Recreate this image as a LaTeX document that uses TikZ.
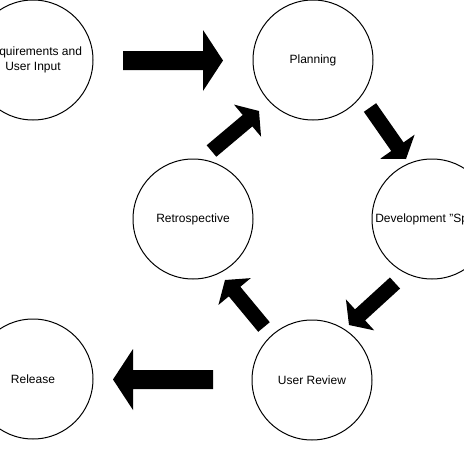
\documentclass[tikz,border=0pt]{standalone}
\usepackage{fontspec}
\setmainfont{Liberation Sans}
\usetikzlibrary{calc}
\tikzset{
  stage/.style={circle, draw=black, line width=1pt, minimum size=120pt, inner sep=0pt, font=\fontsize{12pt}{15pt}\selectfont, align=center, text=black},
}
% #1 tail, #2 tip, #3 half shaft width, #4 half head width, #5 head length
\newcommand\blkarrow[5]{%
  \fill[black] ($(#1)!#3!90:(#2)$)
    -- ($(#2)!#5!(#1)!#3!-90:(#1)$)
    -- ($(#2)!#5!(#1)!#4!-90:(#1)$)
    -- (#2)
    -- ($(#2)!#5!(#1)!#4!90:(#1)$)
    -- ($(#2)!#5!(#1)!#3!90:(#1)$)
    -- ($(#1)!#3!-90:(#2)$) -- cycle;}
\begin{document}
\begin{tikzpicture}[x=1pt,y=-1pt]
\useasboundingbox (0,0) rectangle (464,464);
\clip (0,0) rectangle (464,464);
\fill[white] (0,0) rectangle (464,464);
\node[stage] (req) at (33,60) {Requirements and\\User Input};
\node[stage] (plan) at (313,60) {Planning};
\node[stage] (retro) at (193,219) {Retrospective};
\node[stage] (dev) at (432,219) {Development "Sprint"};
\node[stage] (rev) at (312,380) {User Review};
\node[stage] (rel) at (33,379) {Release};
% arrow end points
\coordinate (a1t) at (123,60.5);  \coordinate (a1h) at (223,60.5);
\coordinate (a2t) at (370,107.5); \coordinate (a2h) at (406,159);
\coordinate (a3t) at (395,283);   \coordinate (a3h) at (349,325);
\coordinate (a4t) at (264,327);   \coordinate (a4h) at (225,280);
\coordinate (a5t) at (211.5,151); \coordinate (a5h) at (259,111);
\coordinate (a6t) at (213,379.5); \coordinate (a6h) at (113,379.5);
\blkarrow{a1t}{a1h}{9.5pt}{30.5pt}{20pt}
\blkarrow{a2t}{a2h}{7.5pt}{21pt}{15pt}
\blkarrow{a3t}{a3h}{7.5pt}{21pt}{15pt}
\blkarrow{a4t}{a4h}{7.5pt}{21pt}{15pt}
\blkarrow{a5t}{a5h}{7.5pt}{21pt}{15pt}
\blkarrow{a6t}{a6h}{9.5pt}{30.5pt}{20pt}
\end{tikzpicture}
\end{document}
